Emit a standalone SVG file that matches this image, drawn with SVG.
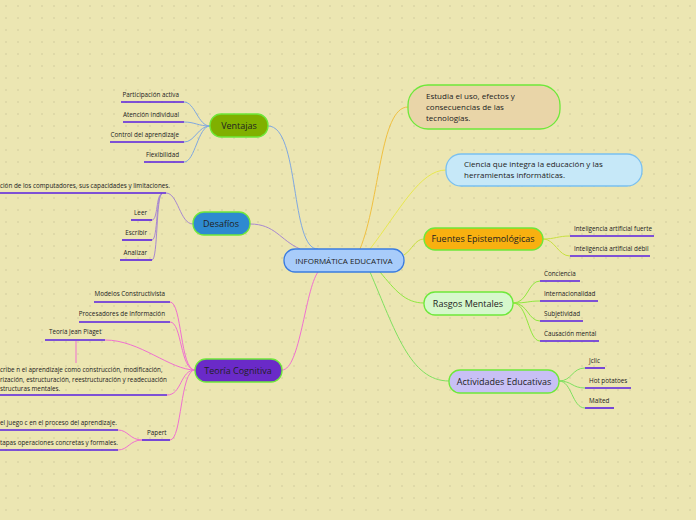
<svg xmlns="http://www.w3.org/2000/svg" width="696" height="520" viewBox="0 0 696 520">
<defs>
<pattern id="dots" width="12" height="12" patternUnits="userSpaceOnUse"><circle cx="6" cy="6" r="0.8" fill="#cfc79a"/></pattern>
<style>
text{font-family:"Open Sans","Noto Sans",sans-serif;fill:#222}
.n{font-size:9px;text-anchor:middle}
.l{font-size:6.3px}
.r{text-anchor:end}
.u{stroke:#5a1fe0;stroke-width:1.6}
.c{fill:none;stroke-width:1}
.b{stroke:#6ee83a;stroke-width:1.3}
</style>
</defs>
<rect width="696" height="520" fill="#ece6b2"/>
<rect width="696" height="520" fill="url(#dots)"/>
<g id="connectors">
<path class="c" stroke="#80a8e0" d="M268 126 C300 126 290 250 318 249"/>
<path class="c" stroke="#80a8e0" d="M210 126 C198 126 195 102 184 102 M210 126 C198 126 195 122 184 122 M210 126 C198 126 195 142 184 142 M210 126 C198 126 195 162 184 162"/>
<path class="c" stroke="#a888d0" d="M250 224 C275 224 280 240 300 249"/>
<path class="c" stroke="#a888d0" d="M193 224 C180 224 178 193 166 193 M162 194 C156 194 158 220 152 220 M162 194 C156 194 158 240 152 240 M162 194 C156 194 158 260 152 260"/>
<path class="c" stroke="#f070d0" d="M282 370 C300 370 305 290 318 272"/>
<path class="c" stroke="#f070d0" d="M195 370 C180 370 182 302 170 302 M195 370 C180 370 182 322 170 322 M195 370 C170 370 140 340 105 340 M195 370 C180 370 182 395 167 395 M195 370 C180 370 182 440 170 440 M142 440 C130 440 128 430 118 430 M142 440 C130 440 128 450 118 450"/>
<line x1="76" y1="341" x2="76" y2="363" stroke="#f070d0"/>
<path class="c" stroke="#f0c040" d="M360 249 C380 200 380 107 408 107"/>
<path class="c" stroke="#e8e850" d="M370 249 C400 210 420 170 446 170"/>
<path class="c" stroke="#c8e040" d="M404 255 C412 250 415 239 424 239"/>
<path class="c" stroke="#c8e040" d="M543 239 C555 239 558 236 570 236 M543 239 C555 239 558 256 570 256"/>
<path class="c" stroke="#90e840" d="M380 272 C395 290 405 303 424 303"/>
<path class="c" stroke="#90e840" d="M513 303 C528 303 528 281 540 281 M513 303 C528 303 528 301 540 301 M513 303 C528 303 528 321 540 321 M513 303 C528 303 528 341 540 341"/>
<path class="c" stroke="#80e060" d="M370 272 C395 330 410 381 449 381"/>
<path class="c" stroke="#80e060" d="M559 381 C572 381 572 368 585 368 M559 381 C572 381 572 388 585 388 M559 381 C572 381 572 408 585 408"/>
</g>
<g id="central"><rect x="284" y="249" width="120" height="23" rx="11" fill="#a8ccfa" stroke="#3a7ce0" stroke-width="1.3"/><text class="n" x="344" y="264" style="font-size:8px">INFORMÁTICA EDUCATIVA</text></g>
<g id="ventajas"><rect x="210" y="114" width="58" height="23" rx="11" fill="#80b000" class="b"/><text class="n" x="239" y="129">Ventajas</text>
<line class="u" x1="121" y1="102" x2="184" y2="102"/><text class="l r" x="179" y="97">Participación activa</text>
<line class="u" x1="123" y1="122" x2="184" y2="122"/><text class="l r" x="179" y="117">Atención individual</text>
<line class="u" x1="110" y1="142" x2="184" y2="142"/><text class="l r" x="179" y="137">Control del aprendizaje</text>
<line class="u" x1="144" y1="162" x2="184" y2="162"/><text class="l r" x="179" y="157">Flexibilidad</text></g>
<g id="desafios"><rect x="193" y="212" width="57" height="23" rx="11" fill="#2e8ad0" class="b"/><text class="n" x="221" y="227">Desafíos</text>
<line class="u" x1="0" y1="193" x2="166" y2="193"/><text class="l" x="0" y="188">ción de los computadores, sus capacidades y limitaciones.</text>
<line class="u" x1="131" y1="220" x2="152" y2="220"/><text class="l r" x="147" y="215">Leer</text>
<line class="u" x1="122" y1="240" x2="152" y2="240"/><text class="l r" x="147" y="235">Escribir</text>
<line class="u" x1="120" y1="260" x2="152" y2="260"/><text class="l r" x="147" y="255">Analizar</text></g>
<g id="teoria"><rect x="195" y="359" width="87" height="23" rx="11" fill="#6a2ac8" class="b"/><text class="n" x="238" y="374">Teoría Cognitiva</text>
<line class="u" x1="94" y1="302" x2="170" y2="302"/><text class="l r" x="165" y="296">Modelos Constructivista</text>
<line class="u" x1="79" y1="322" x2="170" y2="322"/><text class="l r" x="165" y="316">Procesadores de Información</text>
<line class="u" x1="45" y1="340" x2="105" y2="340"/><text class="l" x="49" y="334">Teoría  Jean Piaget</text>
<text class="l" x="0" y="372">cribe n el aprendizaje como construcción, modificación,</text>
<text class="l" x="0" y="382">rización, estructuración, reestructuración y readecuación</text>
<text class="l" x="0" y="391">structuras mentales.</text>
<line class="u" x1="0" y1="395" x2="167" y2="395"/>
<line class="u" x1="142" y1="440" x2="170" y2="440"/><text class="l" x="147" y="435">Papert</text>
<line class="u" x1="0" y1="430" x2="118" y2="430"/><text class="l" x="0" y="425">el juego c en el proceso del aprendizaje.</text>
<line class="u" x1="0" y1="450" x2="118" y2="450"/><text class="l" x="0" y="445">tapas  operaciones concretas y formales.</text></g>
<g id="estudia"><rect x="408" y="85" width="152" height="44" rx="20" fill="#e9d5a8" class="b"/><text style="font-size:8px" x="426" y="99">Estudia el uso, efectos y</text><text style="font-size:8px" x="426" y="110">consecuencias de las</text><text style="font-size:8px" x="426" y="121">tecnologías.</text></g>
<g id="ciencia"><rect x="446" y="154" width="196" height="32" rx="15" fill="#c6e8f8" stroke="#7ac0f0" stroke-width="1.3"/><text style="font-size:8px" x="464" y="167">Ciencia que integra la educación y las</text><text style="font-size:8px" x="464" y="178">herramientas informáticas.</text></g>
<g id="fuentes"><rect x="424" y="228" width="119" height="22" rx="11" fill="#f8b010" class="b"/><text class="n" x="483" y="242">Fuentes Epistemológicas</text>
<line class="u" x1="570" y1="236" x2="654" y2="236"/><text class="l" x="574" y="231">Inteligencia artificial fuerte</text>
<line class="u" x1="570" y1="256" x2="650" y2="256"/><text class="l" x="574" y="251">Inteligencia artificial débil</text></g>
<g id="rasgos"><rect x="424" y="292" width="89" height="23" rx="11" fill="#d6f8cc" class="b"/><text class="n" x="468" y="307">Rasgos Mentales</text>
<line class="u" x1="540" y1="281" x2="580" y2="281"/><text class="l" x="544" y="276">Conciencia</text>
<line class="u" x1="540" y1="301" x2="598" y2="301"/><text class="l" x="544" y="296">Internacionalidad</text>
<line class="u" x1="540" y1="321" x2="583" y2="321"/><text class="l" x="544" y="316">Subjetividad</text>
<line class="u" x1="540" y1="341" x2="599" y2="341"/><text class="l" x="544" y="336">Causación mental</text></g>
<g id="actividades"><rect x="449" y="370" width="110" height="23" rx="11" fill="#c8c0f5" class="b"/><text class="n" x="504" y="385">Actividades Educativas</text>
<line class="u" x1="585" y1="368" x2="605" y2="368"/><text class="l" x="589" y="363">Jclic</text>
<line class="u" x1="585" y1="388" x2="631" y2="388"/><text class="l" x="589" y="383">Hot potatoes</text>
<line class="u" x1="585" y1="408" x2="614" y2="408"/><text class="l" x="589" y="403">Malted</text></g>
</svg>
